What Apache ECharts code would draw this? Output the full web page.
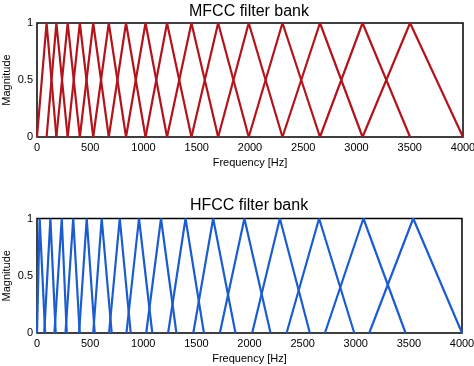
<!DOCTYPE html>
<html>
<head>
<meta charset="utf-8">
<script src="https://cdn.jsdelivr.net/npm/echarts@6/dist/echarts.min.js"></script>
<style>
html,body{margin:0;padding:0;background:#fff;}
#chart{width:474px;height:366px;}
</style>
</head>
<body>
<div id="chart"></div>
<script>
// Tick labels
var xTicks = [0, 500, 1000, 1500, 2000, 2500, 3000, 3500, 4000];
var yTicks = [0, 0.5, 1];

// MFCC: shared boundary/centre frequencies (Hz); filter i spans pts[i]..pts[i+2], peak at pts[i+1]
var mfccPoints = [0, 90, 182, 288, 402, 528, 674, 836, 1019, 1221, 1450, 1701, 1988, 2305, 2657, 3057, 3503, 4000];

// HFCC: per-filter left edge, peak, right edge (Hz)
var hfccLeft  = [0, 68, 164, 268, 396, 529, 678, 842, 1028, 1234, 1471, 1721, 2025, 2349, 2710, 3127];
var hfccPeak  = [25, 126, 233, 341, 468, 609, 779, 960, 1167, 1398, 1658, 1952, 2286, 2655, 3072, 3541];
var hfccRight = [77, 176, 280, 402, 543, 703, 882, 1085, 1312, 1571, 1868, 2198, 2568, 2986, 3469, 4000];

var FONT = "'Liberation Sans', Arial, Helvetica, sans-serif";
var RED = '#b3141c';
var BLUE = '#1b5ccf';

var series = [];
for (var i = 0; i + 2 < mfccPoints.length; i++) {
  series.push({
    type: 'line', xAxisIndex: 0, yAxisIndex: 0,
    data: [[mfccPoints[i], 0], [mfccPoints[i + 1], 1], [mfccPoints[i + 2], 0]],
    showSymbol: false, symbol: 'none', silent: true,
    lineStyle: { color: RED, width: 2.2 }
  });
}
for (var j = 0; j < hfccPeak.length; j++) {
  series.push({
    type: 'line', xAxisIndex: 1, yAxisIndex: 1,
    data: [[hfccLeft[j], 0], [hfccPeak[j], 1], [hfccRight[j], 0]],
    showSymbol: false, symbol: 'none', silent: true,
    lineStyle: { color: BLUE, width: 2.2 }
  });
}

function xAx(idx) {
  return {
    type: 'value', gridIndex: idx, min: 0, max: 4000, interval: 500,
    name: 'Frequency [Hz]', nameLocation: 'middle', nameGap: 20,
    nameTextStyle: { fontFamily: FONT, fontSize: 11, color: '#000' },
    axisLine: { show: false }, axisTick: { show: false }, splitLine: { show: false },
    axisLabel: { fontFamily: FONT, fontSize: 11, color: '#000', margin: 5,
      hideOverlap: false, showMinLabel: true, showMaxLabel: true,
      formatter: function (v) { return String(v); } }
  };
}
function yAx(idx) {
  return {
    type: 'value', gridIndex: idx, min: 0, max: 1, interval: 0.5,
    name: 'Magnitude', nameLocation: 'middle', nameGap: 25, nameRotate: 90,
    nameMoveOverlap: false,
    nameTextStyle: { fontFamily: FONT, fontSize: 11, color: '#000' },
    axisLine: { show: false }, axisTick: { show: false }, splitLine: { show: false },
    axisLabel: { fontFamily: FONT, fontSize: 11, color: '#000', margin: 4,
      showMinLabel: true, showMaxLabel: true,
      formatter: function (v) { return String(v); } }
  };
}

var chart = echarts.init(document.getElementById('chart'), null, { renderer: 'canvas' });
chart.setOption({
  animation: false,
  backgroundColor: '#fff',
  title: [
    { text: 'MFCC filter bank', left: 244, top: -1, textAlign: 'center',
      textStyle: { fontFamily: FONT, fontSize: 16, fontWeight: 'normal', color: '#000' } },
    { text: 'HFCC filter bank', left: 244, top: 193, textAlign: 'center',
      textStyle: { fontFamily: FONT, fontSize: 16, fontWeight: 'normal', color: '#000' } }
  ],
  grid: [
    { left: 37, width: 426, top: 23, height: 114, containLabel: false, outerBoundsMode: 'none',
      show: true, borderColor: '#000', borderWidth: 1.5, backgroundColor: 'transparent' },
    { left: 37, width: 425, top: 218.5, height: 114.5, containLabel: false, outerBoundsMode: 'none',
      show: true, borderColor: '#000', borderWidth: 1.5, backgroundColor: 'transparent' }
  ],
  xAxis: [xAx(0), xAx(1)],
  yAxis: [yAx(0), yAx(1)],
  series: series
});
</script>
</body>
</html>
